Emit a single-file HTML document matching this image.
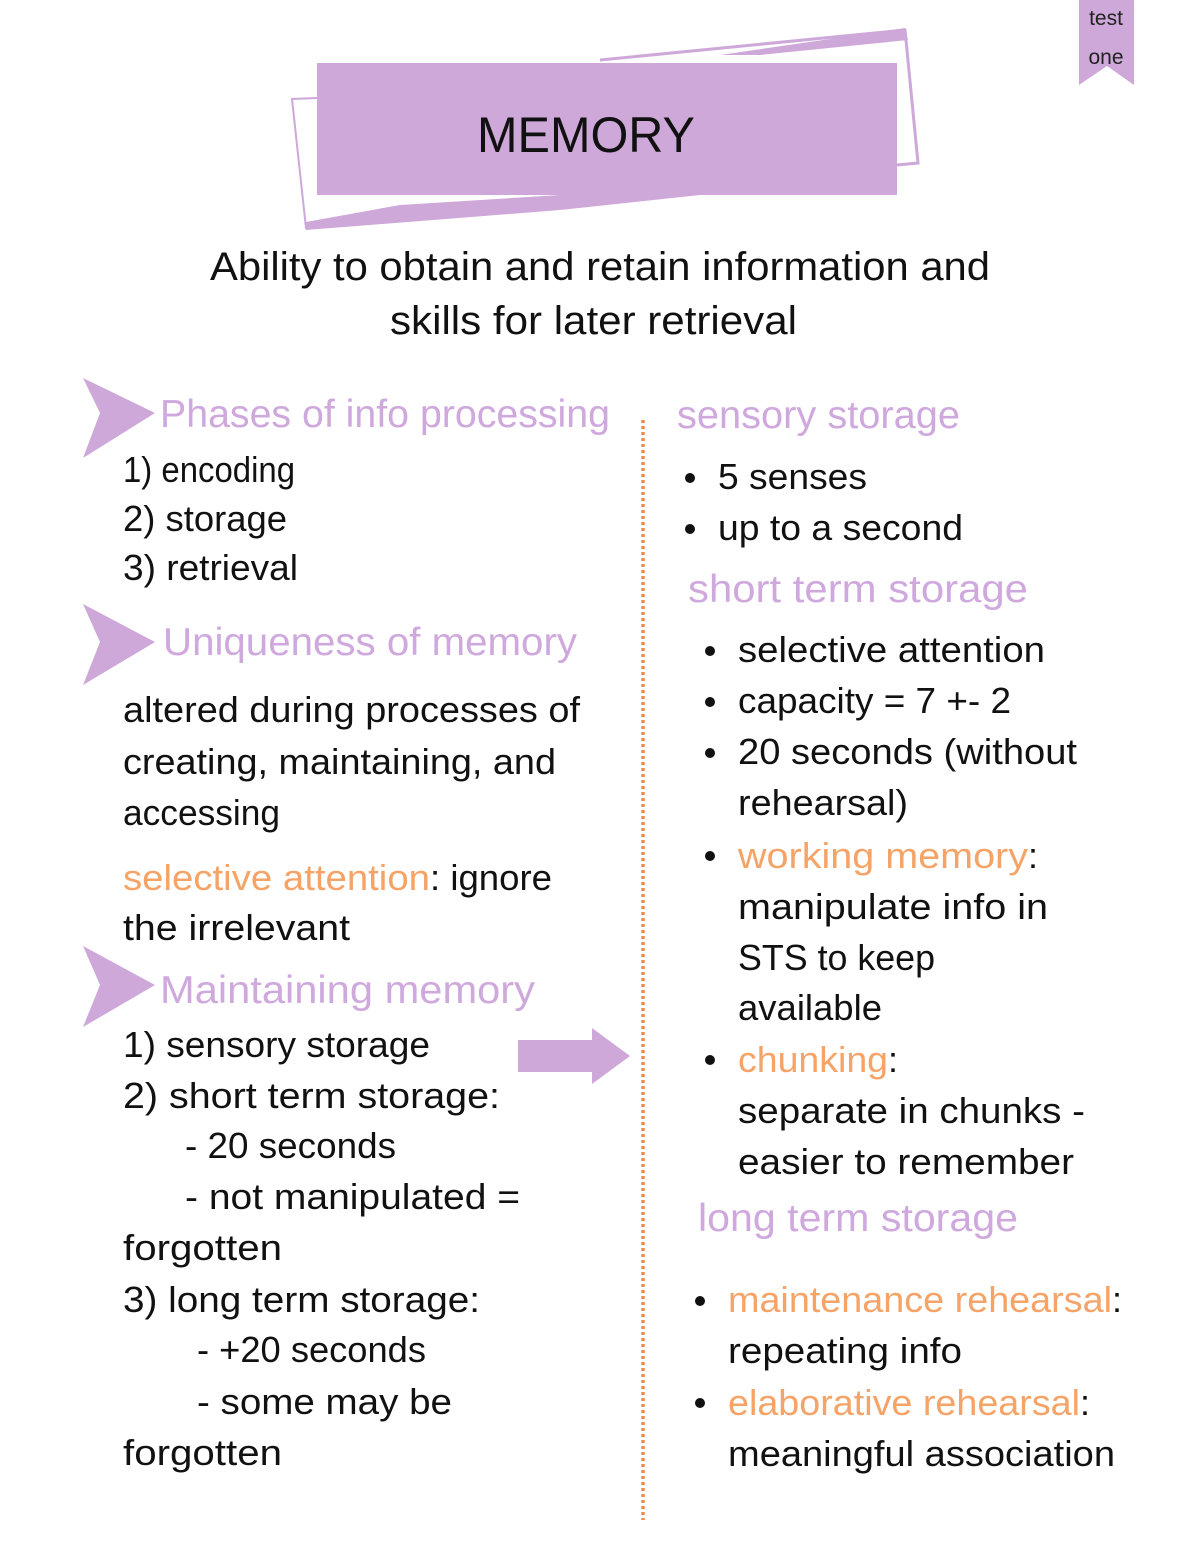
<!DOCTYPE html>
<html><head><meta charset="utf-8"><style>
html,body{margin:0;padding:0;background:#fff}
svg{display:block}
text{font-family:"Liberation Sans",sans-serif}
.b{fill:#111;font-size:36px}
.h{fill:#cfa8dd;font-size:39px}
.o{fill:#f5a366;font-size:36px}
</style></head><body>
<svg width="1200" height="1553" viewBox="0 0 1200 1553" xmlns="http://www.w3.org/2000/svg">
<polygon points="1079,0 1134,0 1134,85 1107,66 1079,85" fill="#cda8d9"/>
<text x="1106" y="25" text-anchor="middle" style="font-size:21px;fill:#222">test</text>
<text x="1106" y="64" text-anchor="middle" style="font-size:21px;fill:#222">one</text>
<polyline points="317,98 292,99 306,228 560,205 560,205" fill="none" stroke="#cda8d9" stroke-width="2"/>
<polygon points="306,222 400,205 560,195 700,195 560,210 306,230" fill="#cda8d9"/>
<polyline points="600,60 905,30 918,163 897,165" fill="none" stroke="#cda8d9" stroke-width="3"/>
<polygon points="720,55 905,28 908,40 760,55" fill="#cda8d9"/>
<rect x="317" y="63" width="580" height="132" fill="#cda8d9"/>
<text x="586" y="152" text-anchor="middle" textLength="218" lengthAdjust="spacingAndGlyphs" style="font-size:50px;fill:#111">MEMORY</text>
<text class="b" x="210" y="280" textLength="780" lengthAdjust="spacingAndGlyphs" style="font-size:40px">Ability to obtain and retain information and</text>
<text class="b" x="390" y="334" textLength="407" lengthAdjust="spacingAndGlyphs" style="font-size:40px">skills for later retrieval</text>
<polygon points="83,378 155,413 83,458 100,413" fill="#cda8d9"/>
<polygon points="83,604 155,642 83,685 100,642" fill="#cda8d9"/>
<polygon points="83,946 155,985 83,1027 100,985" fill="#cda8d9"/>
<polygon points="518,1040 592,1040 592,1028 630,1056 592,1084 592,1072 518,1072" fill="#cda8d9"/>
<line x1="643" y1="420" x2="643" y2="1520" stroke="#f58a45" stroke-width="3.5" stroke-dasharray="3,3"/>
<text class="h" x="160" y="427" textLength="450" lengthAdjust="spacingAndGlyphs">Phases of info processing</text>
<text class="b" x="123" y="482" textLength="172" lengthAdjust="spacingAndGlyphs">1) encoding</text>
<text class="b" x="123" y="531" textLength="164" lengthAdjust="spacingAndGlyphs">2) storage</text>
<text class="b" x="123" y="580" textLength="175" lengthAdjust="spacingAndGlyphs">3) retrieval</text>
<text class="h" x="163" y="655" textLength="414" lengthAdjust="spacingAndGlyphs">Uniqueness of memory</text>
<text class="b" x="123" y="722" textLength="457" lengthAdjust="spacingAndGlyphs">altered during processes of</text>
<text class="b" x="123" y="774" textLength="433" lengthAdjust="spacingAndGlyphs">creating, maintaining, and</text>
<text class="b" x="123" y="825" textLength="157" lengthAdjust="spacingAndGlyphs">accessing</text>
<text class="o" x="123" y="890" textLength="307" lengthAdjust="spacingAndGlyphs">selective attention</text>
<text class="b" x="430" y="890" textLength="122" lengthAdjust="spacingAndGlyphs">: ignore</text>
<text class="b" x="123" y="940" textLength="227" lengthAdjust="spacingAndGlyphs">the irrelevant</text>
<text class="h" x="160" y="1003" textLength="375" lengthAdjust="spacingAndGlyphs">Maintaining memory</text>
<text class="b" x="123" y="1057" textLength="307" lengthAdjust="spacingAndGlyphs">1) sensory storage</text>
<text class="b" x="123" y="1108" textLength="377" lengthAdjust="spacingAndGlyphs">2) short term storage:</text>
<text class="b" x="185" y="1158" textLength="211" lengthAdjust="spacingAndGlyphs">- 20 seconds</text>
<text class="b" x="185" y="1209" textLength="335" lengthAdjust="spacingAndGlyphs">- not manipulated =</text>
<text class="b" x="123" y="1260" textLength="159" lengthAdjust="spacingAndGlyphs">forgotten</text>
<text class="b" x="123" y="1312" textLength="357" lengthAdjust="spacingAndGlyphs">3) long term storage:</text>
<text class="b" x="197" y="1362" textLength="229" lengthAdjust="spacingAndGlyphs">- +20 seconds</text>
<text class="b" x="197" y="1414" textLength="255" lengthAdjust="spacingAndGlyphs">- some may be</text>
<text class="b" x="123" y="1465" textLength="159" lengthAdjust="spacingAndGlyphs">forgotten</text>
<text class="h" x="677" y="428" textLength="283" lengthAdjust="spacingAndGlyphs">sensory storage</text>
<circle cx="690" cy="478" r="5" fill="#111"/>
<text class="b" x="718" y="489" textLength="149" lengthAdjust="spacingAndGlyphs">5 senses</text>
<circle cx="690" cy="529" r="5" fill="#111"/>
<text class="b" x="718" y="540" textLength="245" lengthAdjust="spacingAndGlyphs">up to a second</text>
<text class="h" x="688" y="602" textLength="340" lengthAdjust="spacingAndGlyphs">short term storage</text>
<circle cx="710" cy="651" r="5" fill="#111"/>
<text class="b" x="738" y="662" textLength="307" lengthAdjust="spacingAndGlyphs">selective attention</text>
<circle cx="710" cy="702" r="5" fill="#111"/>
<text class="b" x="738" y="713" textLength="273" lengthAdjust="spacingAndGlyphs">capacity = 7 +- 2</text>
<circle cx="710" cy="753" r="5" fill="#111"/>
<text class="b" x="738" y="764" textLength="339" lengthAdjust="spacingAndGlyphs">20 seconds (without</text>
<text class="b" x="738" y="815" textLength="170" lengthAdjust="spacingAndGlyphs">rehearsal)</text>
<circle cx="710" cy="856" r="5" fill="#111"/>
<text class="o" x="738" y="868" textLength="290" lengthAdjust="spacingAndGlyphs">working memory</text>
<text class="b" x="1028" y="868">:</text>
<text class="b" x="738" y="919" textLength="310" lengthAdjust="spacingAndGlyphs">manipulate info in</text>
<text class="b" x="738" y="970" textLength="197" lengthAdjust="spacingAndGlyphs">STS to keep</text>
<text class="b" x="738" y="1020" textLength="144" lengthAdjust="spacingAndGlyphs">available</text>
<circle cx="710" cy="1060" r="5" fill="#111"/>
<text class="o" x="738" y="1072" textLength="150" lengthAdjust="spacingAndGlyphs">chunking</text>
<text class="b" x="888" y="1072">:</text>
<text class="b" x="738" y="1123" textLength="347" lengthAdjust="spacingAndGlyphs">separate in chunks -</text>
<text class="b" x="738" y="1174" textLength="336" lengthAdjust="spacingAndGlyphs">easier to remember</text>
<text class="h" x="698" y="1231" textLength="320" lengthAdjust="spacingAndGlyphs">long term storage</text>
<circle cx="700" cy="1301" r="5" fill="#111"/>
<text class="o" x="728" y="1312" textLength="384" lengthAdjust="spacingAndGlyphs">maintenance rehearsal</text>
<text class="b" x="1112" y="1312">:</text>
<text class="b" x="728" y="1363" textLength="234" lengthAdjust="spacingAndGlyphs">repeating info</text>
<circle cx="700" cy="1403" r="5" fill="#111"/>
<text class="o" x="728" y="1415" textLength="352" lengthAdjust="spacingAndGlyphs">elaborative rehearsal</text>
<text class="b" x="1080" y="1415">:</text>
<text class="b" x="728" y="1466" textLength="387" lengthAdjust="spacingAndGlyphs">meaningful association</text>
</svg>
</body></html>
